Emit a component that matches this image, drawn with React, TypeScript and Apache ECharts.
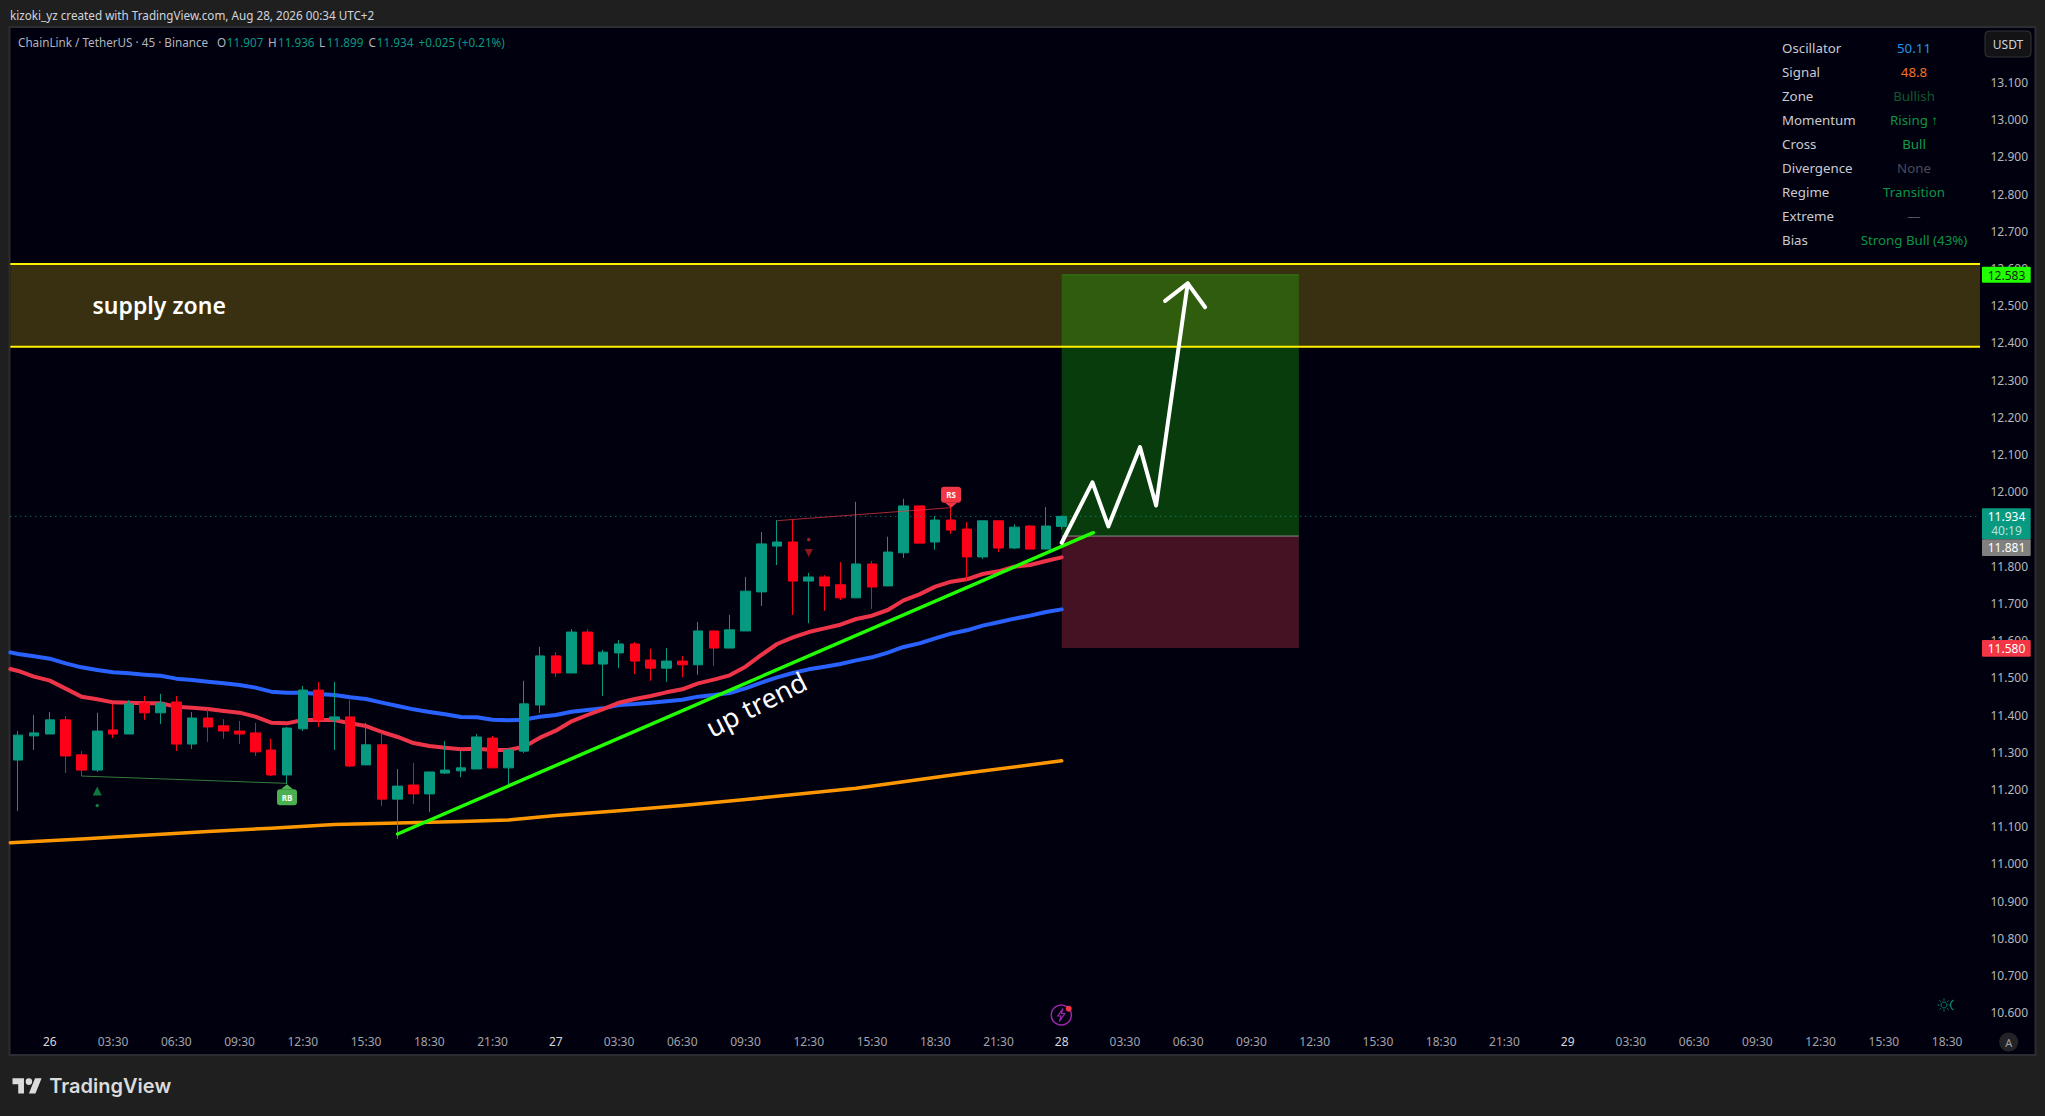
import React, { useEffect, useRef } from "react";
import * as echarts from "echarts";

// [open, close, low, high]
const candles: number[][] = [
  [11.279, 11.346, 11.142, 11.357], [11.344, 11.352, 11.306, 11.4], [11.349, 11.387, 11.349, 11.408],
  [11.387, 11.29, 11.244, 11.397], [11.293, 11.252, 11.236, 11.303], [11.252, 11.357, 11.247, 11.406],
  [11.36, 11.349, 11.338, 11.43], [11.349, 11.43, 11.349, 11.44], [11.432, 11.406, 11.387, 11.451],
  [11.406, 11.432, 11.376, 11.457], [11.435, 11.322, 11.303, 11.451], [11.322, 11.392, 11.309, 11.408],
  [11.392, 11.368, 11.328, 11.416], [11.371, 11.357, 11.336, 11.389], [11.357, 11.349, 11.322, 11.384],
  [11.352, 11.301, 11.29, 11.379], [11.306, 11.239, 11.236, 11.336], [11.239, 11.365, 11.216, 11.368],
  [11.363, 11.467, 11.357, 11.478], [11.467, 11.387, 11.368, 11.489], [11.387, 11.395, 11.306, 11.489],
  [11.395, 11.263, 11.26, 11.44], [11.266, 11.32, 11.266, 11.379], [11.32, 11.174, 11.156, 11.352],
  [11.174, 11.209, 11.067, 11.255], [11.212, 11.188, 11.161, 11.271], [11.188, 11.247, 11.139, 11.247],
  [11.244, 11.252, 11.242, 11.33], [11.25, 11.258, 11.233, 11.303], [11.255, 11.341, 11.255, 11.349],
  [11.338, 11.258, 11.258, 11.344], [11.258, 11.306, 11.209, 11.309], [11.303, 11.43, 11.298, 11.492],
  [11.427, 11.559, 11.406, 11.583], [11.559, 11.513, 11.502, 11.569], [11.513, 11.623, 11.513, 11.631],
  [11.623, 11.537, 11.535, 11.631], [11.537, 11.569, 11.451, 11.575], [11.567, 11.591, 11.526, 11.602],
  [11.591, 11.545, 11.51, 11.596], [11.548, 11.526, 11.492, 11.578], [11.526, 11.545, 11.489, 11.58],
  [11.545, 11.535, 11.502, 11.559], [11.535, 11.626, 11.508, 11.65], [11.626, 11.58, 11.532, 11.626],
  [11.58, 11.629, 11.58, 11.669], [11.626, 11.733, 11.626, 11.771], [11.731, 11.86, 11.693, 11.892],
  [11.854, 11.865, 11.803, 11.924], [11.865, 11.76, 11.669, 11.924], [11.76, 11.771, 11.647, 11.782],
  [11.771, 11.747, 11.68, 11.776], [11.75, 11.715, 11.709, 11.811], [11.715, 11.806, 11.715, 11.973],
  [11.806, 11.744, 11.685, 11.814], [11.747, 11.838, 11.747, 11.879], [11.836, 11.962, 11.822, 11.981],
  [11.962, 11.862, 11.862, 11.962], [11.865, 11.924, 11.844, 11.935], [11.924, 11.897, 11.887, 11.959],
  [11.9, 11.825, 11.76, 11.919], [11.825, 11.922, 11.819, 11.922], [11.922, 11.849, 11.838, 11.922],
  [11.849, 11.905, 11.846, 11.913], [11.908, 11.846, 11.846, 11.911], [11.846, 11.908, 11.846, 11.959],
  [11.907, 11.934, 11.899, 11.936],
];

const blueMA = [
  11.5641, 11.5578, 11.5515, 11.539, 11.5282, 11.5211, 11.5148, 11.5121, 11.5085, 11.5058, 11.4978, 11.4942,
  11.4897, 11.4852, 11.4807, 11.4736, 11.4628, 11.4601, 11.4601, 11.4566, 11.4539, 11.4476, 11.4431, 11.4333,
  11.4243, 11.4153, 11.4082, 11.4019, 11.3947, 11.3938, 11.3876, 11.3858, 11.3876, 11.3956, 11.4001, 11.409,
  11.4135, 11.418, 11.427, 11.4296, 11.4332, 11.4368, 11.4413, 11.4494, 11.4538, 11.4592, 11.4718, 11.487,
  11.5013, 11.513, 11.5228, 11.53, 11.5372, 11.547, 11.5551, 11.5676, 11.5829, 11.5927, 11.6062, 11.6187,
  11.6277, 11.6402, 11.6492, 11.659, 11.6671, 11.6769, 11.684,
];
const blueEdge = 11.5685;

const redMA = [
  11.5184, 11.5031, 11.4924, 11.4709, 11.4494, 11.4422, 11.4341, 11.4333, 11.4315, 11.4315, 11.4225, 11.4198,
  11.4162, 11.4109, 11.4064, 11.3956, 11.3795, 11.3777, 11.3867, 11.3867, 11.3867, 11.3777, 11.3705, 11.3544,
  11.341, 11.3248, 11.3168, 11.3123, 11.3078, 11.3096, 11.306, 11.306, 11.315, 11.3391, 11.358, 11.3831,
  11.4001, 11.4162, 11.4332, 11.4431, 11.4512, 11.461, 11.4691, 11.4852, 11.4951, 11.5067, 11.53, 11.5614,
  11.5909, 11.6088, 11.6231, 11.633, 11.6428, 11.6581, 11.667, 11.6823, 11.7082, 11.7244, 11.745, 11.7584,
  11.7647, 11.779, 11.7862, 11.7987, 11.8032, 11.814, 11.8238,
];
const redEdge = 11.5237;

const orangeMA: number[][] = [
  [-0.5, 11.0569], [4, 11.067], [12, 11.087], [16, 11.096], [20, 11.106], [24, 11.11], [28, 11.114], [31, 11.118],
  [34, 11.13], [38, 11.143], [42, 11.157], [46, 11.173], [53, 11.203], [60, 11.244], [66, 11.277],
];

const trendLine: number[][] = [[24, 11.0803], [68, 11.89]];
const zigzag: number[][] = [[66, 11.863], [67.94, 12.0255], [68.95, 11.907], [70.95, 12.12], [71.97, 11.963], [73.97, 12.56]];
const arrowHead: number[][] = [[72.54, 12.513], [73.97, 12.56], [75.07, 12.496]];
const bullPivot: number[][] = [[4, 11.236], [17, 11.2164]];
const bearPivot: number[][] = [[48, 11.9224], [59, 11.9573]];

const xMin = -0.5;
const xMax = 124.08;
const supplyTop = 12.612;
const supplyBottom = 12.39;
const posStart = 66;
const posEnd = 81;
const target = 12.583;
const entry = 11.881;
const stop = 11.58;
const lastPrice = 11.934;

const zoneRects: number[][] = [
  [xMin, supplyTop, xMax, supplyBottom],
  [posStart, target, posEnd, entry],
  [posStart, entry, posEnd, stop],
];
const zoneFills = ["#383011", "rgba(31,200,5,0.3)", "rgba(224,60,78,0.3)"];

const dayLabels = ["26", "27", "28", "29"];
const hourLabels = ["03:30", "06:30", "09:30", "12:30", "15:30", "18:30", "21:30"];
const timeLabels: string[] = [
  "26", ...hourLabels, "27", ...hourLabels, "28", ...hourLabels, "29", ...hourLabels.slice(0, 6),
];
const timeTicks = timeLabels.map((_, i) => 2 + i * 4);

const tableRows = ["Oscillator", "Signal", "Zone", "Momentum", "Cross", "Divergence", "Regime", "Extreme", "Bias"];
const tableValues = ["50.11", "48.8", "Bullish", "Rising ↑", "Bull", "None", "Transition", "—", "Strong Bull (43%)"];
const tableColors = ["#1e96e6", "#f57020", "#0f5a2c", "#0d9447", "#0f9d4a", "#4b4b5c", "#0d9447", "#55555f", "#0d9447"];

const signals: (string | number)[][] = [
  [17, 11.2164, "RB"],
  [59, 11.9573, "RS"],
];

const FONT = "Noto Sans";
const GREEN = "#089981";
const RED = "#ff0019";
const AXIS_TEXT = "#b6b7bb";

const gridLeft = 10.3;
const gridTop = 82.5;
const gridWidth = 1969.7;
const gridHeight = 930.2;
const priceY = (p: number) => gridTop + ((13.1 - p) / 2.5) * gridHeight;

function lineSeries(data: number[][], color: string, width: number, z: number, extra: any = {}) {
  return {
    type: "line",
    data,
    showSymbol: false,
    symbol: "none",
    silent: true,
    z,
    lineStyle: { color, width, cap: "round", join: "round", ...extra },
  };
}

function txt(text: string, x: number, y: number, fill: string, extra: any = {}) {
  const { fontSize = 12, fontWeight = 400, align = "left", family = FONT, ...rest } = extra;
  return {
    type: "text",
    z: 100,
    x,
    y,
    ...rest,
    style: { text, fill, font: `${fontWeight} ${fontSize}px "${family}", sans-serif`, align, verticalAlign: "middle" },
  };
}

function tag(y0: number, y1: number, fill: string) {
  return { type: "rect", z: 99, shape: { x: 1982, y: y0, width: 48.7, height: y1 - y0, r: 1 }, style: { fill } };
}

export default function App() {
  const ref = useRef<HTMLDivElement>(null);

  useEffect(() => {
    if (!ref.current) return;
    echarts.graphic.registerShape(
      "tvlogo",
      echarts.graphic.extendPath(
        "M14 22H7V11H0V4h14v18zM28 22h-8l7.5-18h8L28 22zM24 8a4 4 0 1 1-8 0 4 4 0 1 1 8 0z",
        {}
      ) as any
    );
    const chart = echarts.init(ref.current, undefined, { renderer: "svg", width: 2045, height: 1116 });

    const sunSpikes: any[] = [];
    for (let a = 0; a < 8; a++) {
      const t = (a * Math.PI) / 4;
      sunSpikes.push({
        type: "line",
        z: 100,
        shape: {
          x1: 1944 + Math.cos(t) * 4.5,
          y1: 1005 + Math.sin(t) * 4.5,
          x2: 1944 + Math.cos(t) * 6.5,
          y2: 1005 + Math.sin(t) * 6.5,
        },
        style: { stroke: "#0b7f6c", lineWidth: 1 },
      });
    }

    const small = { fontSize: 11.7 };
    const graphics: any[] = [
      { type: "rect", z: -1, shape: { x: 9.5, y: 27, width: 2026, height: 1028 }, style: { fill: "#01000f", stroke: "#2c2d31", lineWidth: 2 } },
      txt("kizoki_yz created with TradingView.com, Aug 28, 2026 00:34 UTC+2", 10, 15, "#d1d4dc", small),
      txt("ChainLink / TetherUS · 45 · Binance", 18, 42, "#b2b5be", small),
      txt("O", 217, 42, "#b2b5be", small),
      txt("11.907", 226.8, 42, GREEN, small),
      txt("H", 268, 42, "#b2b5be", small),
      txt("11.936", 278, 42, GREEN, small),
      txt("L", 319, 42, "#b2b5be", small),
      txt("11.899", 326.8, 42, GREEN, small),
      txt("C", 368.6, 42, "#b2b5be", small),
      txt("11.934", 376.8, 42, GREEN, small),
      txt("+0.025 (+0.21%)", 418.6, 42, GREEN, small),
      ...tableRows.map((t, i) => txt(t, 1782, 48.3 + i * 24, "#c9cbd1", { fontSize: 13.3 })),
      ...tableValues.map((t, i) => txt(t, 1914, 48.3 + i * 24, tableColors[i], { align: "center", fontSize: 13.3 })),
      { type: "rect", z: 99, shape: { x: 1985, y: 31, width: 46, height: 26, r: 4 }, style: { fill: "#131316", stroke: "#333336", lineWidth: 1 } },
      txt("USDT", 2008, 44.3, "#d1d4dc", { align: "center" }),
      tag(priceY(target) - 8, priceY(target) + 8, "#22ff00"),
      txt(target.toFixed(3), 2006.5, priceY(target) + 0.3, "#0a2a0a", { align: "center" }),
      tag(508.3, 539.3, "#089981"),
      txt(lastPrice.toFixed(3), 2006.5, 516.7, "#ffffff", { align: "center" }),
      txt("40:19", 2006.5, 530.7, "rgba(255,255,255,0.72)", { align: "center" }),
      tag(539.3, 556, "#808080"),
      txt(entry.toFixed(3), 2006.5, 547.7, "#ffffff", { align: "center" }),
      tag(640, 656.7, "#f23645"),
      txt(stop.toFixed(3), 2006.5, 648.3, "#ffffff", { align: "center" }),
      txt("supply zone", 92.5, 305, "#ffffff", { fontSize: 23, fontWeight: 600 }),
      txt("up trend", 756, 704, "#ffffff", { fontSize: 27, align: "center", rotation: (27 * Math.PI) / 180 }),
      { type: "tvlogo", z: 100, x: 12.5, y: 1074.8, scaleX: 0.82, scaleY: 0.85, style: { fill: "#dbdbdb" } },
      txt("TradingView", 49.3, 1086, "#dbdbdb", { fontSize: 20, fontWeight: 600, family: "Inter" }),
      { type: "circle", z: 100, shape: { cx: 1061.3, cy: 1015, r: 10 }, style: { fill: "none", stroke: "#9c27b0", lineWidth: 1.5 } },
      { type: "polygon", z: 100, shape: { points: [[1063, 1008.5], [1057.8, 1016], [1061, 1016], [1059.5, 1021.5], [1064.8, 1013.5], [1061.5, 1013.5]] }, style: { fill: "none", stroke: "#9c27b0", lineWidth: 1.2 } },
      { type: "circle", z: 101, shape: { cx: 1068.7, cy: 1008.7, r: 3 }, style: { fill: "#f23645" } },
      { type: "circle", z: 100, shape: { cx: 1944, cy: 1005, r: 3 }, style: { fill: "none", stroke: "#0b7f6c", lineWidth: 1 } },
      ...sunSpikes,
      { type: "arc", z: 100, shape: { cx: 1956, cy: 1005, r: 5.5, startAngle: Math.PI * 0.65, endAngle: Math.PI * 1.35 }, style: { fill: "none", stroke: "#0b7f6c", lineWidth: 1.2 } },
      { type: "circle", z: 100, shape: { cx: 2008.7, cy: 1042, r: 9.5 }, style: { fill: "#232327" } },
      txt("A", 2008.7, 1042.5, "#a0a0a4", { align: "center", fontSize: 11 }),
    ];

    const option: any = {
      animation: false,
      backgroundColor: "#1f1f1f",
      grid: { left: gridLeft, top: gridTop, width: gridWidth, height: gridHeight, containLabel: false },
      xAxis: {
        type: "value",
        min: xMin,
        max: xMax,
        splitLine: { show: false },
        axisLine: { show: false },
        axisTick: { show: false },
        axisLabel: {
          customValues: timeTicks,
          margin: 23,
          fontFamily: FONT,
          fontSize: 12,
          color: "#a3a4a8",
          hideOverlap: false,
          formatter: (v: number) => {
            const s = timeLabels[Math.round((v - 2) / 4)] ?? "";
            return dayLabels.includes(s) ? `{d|${s}}` : s;
          },
          rich: { d: { color: "#d6d7db", fontFamily: FONT, fontSize: 12 } },
        },
      },
      yAxis: {
        type: "value",
        position: "right",
        min: 10.6,
        max: 13.1,
        interval: 0.1,
        splitLine: { show: false },
        axisLine: { show: false },
        axisTick: { show: false },
        axisLabel: {
          margin: 10.5,
          align: "left",
          color: AXIS_TEXT,
          fontFamily: FONT,
          fontSize: 12,
          formatter: (v: number) => v.toFixed(3),
        },
      },
      series: [
        {
          type: "custom",
          silent: true,
          z: 1,
          clip: false,
          encode: { x: [0, 2], y: [1, 3] },
          data: zoneRects,
          renderItem: (params: any, api: any) => {
            const a = api.coord([api.value(0), api.value(1)]);
            const b = api.coord([api.value(2), api.value(3)]);
            return {
              type: "rect",
              shape: { x: a[0], y: a[1], width: b[0] - a[0], height: b[1] - a[1] },
              style: { fill: zoneFills[params.dataIndex] },
            };
          },
        },
        lineSeries([[xMin, supplyTop], [xMax, supplyTop]], "#fff000", 2, 2, { cap: "butt" }),
        lineSeries([[xMin, supplyBottom], [xMax, supplyBottom]], "#fff000", 2, 2, { cap: "butt" }),
        lineSeries([[posStart, target], [posEnd, target]], "#2f7a15", 1, 2, { cap: "butt" }),
        lineSeries([[posStart, entry], [posEnd, entry]], "#8a8a8a", 1, 2, { cap: "butt" }),
        lineSeries(orangeMA, "#ff9800", 3.5, 3),
        lineSeries([[xMin, blueEdge], ...blueMA.map((v, i) => [i, v])], "#2962ff", 4, 3),
        lineSeries([[xMin, redEdge], ...redMA.map((v, i) => [i, v])], "#ee3448", 4, 3),
        {
          type: "candlestick",
          silent: true,
          z: 4,
          barWidth: 10,
          data: candles.map((c, i) => [i, ...c]),
          encode: { x: 0, y: [1, 2, 3, 4] },
          itemStyle: { color: GREEN, color0: RED, borderColor: GREEN, borderColor0: RED, borderWidth: 1 },
        },
        lineSeries([[xMin, lastPrice], [xMax, lastPrice]], GREEN, 1, 5, { type: [1, 4], cap: "butt" }),
        lineSeries(bullPivot, "rgba(76,175,80,0.7)", 1, 5, { cap: "butt" }),
        lineSeries(bearPivot, "rgba(242,54,69,0.7)", 1, 5, { cap: "butt" }),
        lineSeries(trendLine, "#22ff00", 3.5, 6),
        lineSeries(zigzag, "#ffffff", 4, 7),
        lineSeries(arrowHead, "#ffffff", 4, 7),
        {
          type: "scatter",
          silent: true,
          z: 6,
          symbol: "triangle",
          symbolSize: [9, 9],
          itemStyle: { color: "#14964a" },
          data: [[5, 11.196]],
        },
        {
          type: "scatter",
          silent: true,
          z: 6,
          symbol: "circle",
          symbolSize: 3.5,
          itemStyle: { color: "#14964a" },
          data: [[5, 11.157]],
        },
        {
          type: "scatter",
          silent: true,
          z: 6,
          symbol: "triangle",
          symbolRotate: 180,
          symbolSize: [8, 8],
          itemStyle: { color: "#b71c1c" },
          data: [[50, 11.8355]],
        },
        {
          type: "scatter",
          silent: true,
          z: 6,
          symbol: "circle",
          symbolSize: 3.5,
          itemStyle: { color: "#c62828" },
          data: [[50, 11.872]],
        },
        {
          type: "custom",
          silent: true,
          z: 8,
          clip: false,
          encode: { x: 0, y: 1 },
          data: signals,
          renderItem: (params: any, api: any) => {
            const p = api.coord([api.value(0), api.value(1)]);
            const name = String(signals[params.dataIndex][2]);
            const isBuy = name === "RB";
            const fill = isBuy ? "#4caf50" : "#f23645";
            const w = 20;
            const h = 16;
            const gap = 5;
            const y = isBuy ? p[1] + gap + 1 : p[1] - gap - h;
            const tipY = isBuy ? p[1] + 1 : p[1];
            const baseY = isBuy ? y : y + h;
            return {
              type: "group",
              children: [
                { type: "rect", shape: { x: p[0] - w / 2, y, width: w, height: h, r: 3 }, style: { fill } },
                { type: "polygon", shape: { points: [[p[0] - 6, baseY], [p[0] + 6, baseY], [p[0], tipY]] }, style: { fill } },
                {
                  type: "text",
                  style: { text: name, x: p[0], y: y + h / 2, fill: "#ffffff", font: `700 8px "${FONT}", sans-serif`, align: "center", verticalAlign: "middle" },
                },
              ],
            };
          },
        },
      ],
      graphic: { elements: graphics },
    };
    chart.setOption(option);
    return () => chart.dispose();
  }, []);

  return <div ref={ref} style={{ position: "fixed", left: 0, top: 0, width: 2045, height: 1116 }} />;
}
